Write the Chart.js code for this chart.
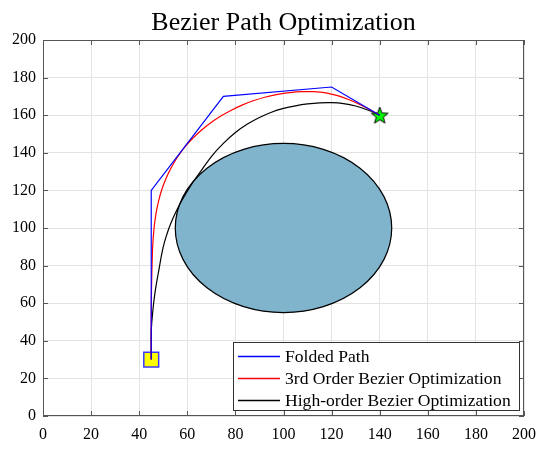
<!DOCTYPE html>
<html><head><meta charset="utf-8">
<script src="https://cdn.jsdelivr.net/npm/chart.js@4.4.1/dist/chart.umd.min.js"></script>
<style>html,body{margin:0;padding:0;background:#fff;}</style>
</head><body>
<canvas id="c" width="550" height="455"></canvas>
<script>
// ---- data ----
const chartTitle = 'Bezier Path Optimization';
const seriesLabels = ['Folded Path', '3rd Order Bezier Optimization', 'High-order Bezier Optimization'];
const seriesColors = ['#0000ff', '#ff0000', '#000000'];
const xTicks = [0, 20, 40, 60, 80, 100, 120, 140, 160, 180, 200];
const yTicks = [0, 20, 40, 60, 80, 100, 120, 140, 160, 180, 200];

const foldedX = [45, 45, 75, 120, 140];
const foldedY = [30, 120, 170, 175, 160];

const bezier3X = [45, 45, 45, 45.1, 45.3, 45.6, 46.1, 46.9, 48, 49.4, 51.2, 53.3, 55.8, 59, 62.5, 66.2, 70.2, 74.3, 78.5, 83, 87.7, 92.6, 97.6, 102.6, 107.6, 112.6, 117.6, 122.5, 127.3, 131.9, 136.2, 140];
const bezier3Y = [30, 42, 54, 66, 78, 90, 99, 107, 114, 120.5, 126.5, 132, 137.5, 143.2, 148, 152.4, 156.4, 159.8, 162.8, 165.5, 167.8, 169.7, 171.1, 172, 172.5, 172.5, 171.9, 170.4, 168.2, 165.6, 162.8, 160];

const bezierHX = [45, 45, 45.25, 45.6, 46, 46.5, 47.1, 47.8, 48.5, 49.2, 50, 51.1, 52.4, 54, 55.8, 57.9, 60.2, 62.7, 65.5, 70, 75, 80, 85, 90, 95, 100, 105, 110, 115, 120, 125, 130, 135, 140];
const bezierHY = [30, 45, 50, 55, 60, 65, 70, 75, 80, 85, 90, 95, 100, 105, 110, 115, 120, 125, 130, 138, 145, 150.8, 155.3, 158.8, 161.6, 163.6, 165, 166, 166.6, 166.7, 166.2, 164.9, 162.8, 160];

const startPoint = [45, 30];
const goalPoint = [140, 160];
const obstacleCenter = [100, 100];
const obstacleRadius = 45;

// ---- helpers ----
const toXY = (xs, ys) => xs.map((x, i) => ({x: x, y: ys[i]}));
const FONT = '"Liberation Serif", "Times New Roman", serif';

function makeStar(size, R) {
  const cv = document.createElement('canvas');
  cv.width = size; cv.height = size;
  const g = cv.getContext('2d');
  const cx = size / 2, cy = size / 2 + 0.8, r = R * 0.42;
  g.beginPath();
  for (let i = 0; i < 10; i++) {
    const a = -Math.PI / 2 + i * Math.PI / 5;
    const rad = i % 2 === 0 ? R : r;
    const px = cx + rad * Math.cos(a), py = cy + rad * Math.sin(a);
    if (i === 0) g.moveTo(px, py); else g.lineTo(px, py);
  }
  g.closePath();
  g.fillStyle = '#00ff00';
  g.fill();
  g.lineWidth = 1;
  g.strokeStyle = '#000';
  g.stroke();
  return cv;
}

const obstaclePlugin = {
  id: 'obstacle',
  beforeDatasetsDraw(chart) {
    const {ctx, scales: {x, y}} = chart;
    const cx = x.getPixelForValue(obstacleCenter[0]);
    const cy = y.getPixelForValue(obstacleCenter[1]);
    const rx = Math.abs(x.getPixelForValue(obstacleCenter[0] + obstacleRadius) - cx);
    const ry = Math.abs(y.getPixelForValue(obstacleCenter[1] + obstacleRadius) - cy);
    ctx.save();
    ctx.beginPath();
    ctx.ellipse(cx, cy, rx, ry, 0, 0, Math.PI * 2);
    ctx.fillStyle = 'rgb(128,179,204)';
    ctx.fill();
    ctx.lineWidth = 1.2;
    ctx.strokeStyle = '#000';
    ctx.stroke();
    ctx.restore();
  }
};

const framePlugin = {
  id: 'frame',
  afterDatasetsDraw(chart) {
    const {ctx, scales: {x, y}, chartArea: a} = chart;
    ctx.save();
    ctx.strokeStyle = '#555';
    ctx.lineWidth = 1;
    ctx.strokeRect(a.left + 0.5, a.top + 0.5, a.right - a.left - 1, a.bottom - a.top - 1);
    const L = 5;
    ctx.beginPath();
    xTicks.forEach(v => {
      const px = Math.round(x.getPixelForValue(v)) + 0.5;
      ctx.moveTo(px, a.bottom); ctx.lineTo(px, a.bottom - L);
      ctx.moveTo(px, a.top); ctx.lineTo(px, a.top + L);
    });
    yTicks.forEach(v => {
      const py = Math.round(y.getPixelForValue(v)) + 0.5;
      ctx.moveTo(a.left, py); ctx.lineTo(a.left + L, py);
      ctx.moveTo(a.right, py); ctx.lineTo(a.right - L, py);
    });
    ctx.stroke();

    // title
    ctx.fillStyle = '#000';
    ctx.font = '26px ' + FONT;
    ctx.textAlign = 'center';
    ctx.textBaseline = 'alphabetic';
    ctx.fillText(chartTitle, (a.left + a.right) / 2, a.top - 10);
    ctx.restore();
  },
  afterDraw(chart) {
    const {ctx, chartArea: a} = chart;
    const w = 286, h = 68;
    const bx = Math.round(a.right - 5 - w), by = Math.round(a.bottom - 6 - h);
    ctx.save();
    ctx.fillStyle = '#fff';
    ctx.fillRect(bx, by, w, h);
    ctx.strokeStyle = '#333';
    ctx.lineWidth = 1;
    ctx.strokeRect(bx + 0.5, by + 0.5, w, h);
    ctx.font = '17.6px ' + FONT;
    ctx.textBaseline = 'middle';
    ctx.textAlign = 'left';
    seriesLabels.forEach((lab, i) => {
      const ry = Math.round(by + 13.5 + i * 22.2) + 0.5;
      ctx.save();
      ctx.beginPath();
      ctx.strokeStyle = seriesColors[i];
      ctx.lineWidth = 1.3;
      ctx.moveTo(bx + 5, ry);
      ctx.lineTo(bx + 47, ry);
      ctx.stroke();
      ctx.restore();
      ctx.fillStyle = '#000';
      ctx.fillText(lab, bx + 52, ry + 0.5);
    });
    ctx.restore();
  }
};

new Chart(document.getElementById('c'), {
  type: 'scatter',
  data: {
    datasets: [
      {label: seriesLabels[0], data: toXY(foldedX, foldedY), showLine: true, borderColor: seriesColors[0], borderWidth: 1.2, pointRadius: 0, tension: 0, fill: false},
      {label: seriesLabels[1], data: toXY(bezier3X, bezier3Y), showLine: true, borderColor: seriesColors[1], borderWidth: 1.2, pointRadius: 0, tension: 0.3, fill: false},
      {label: seriesLabels[2], data: toXY(bezierHX, bezierHY), showLine: true, borderColor: seriesColors[2], borderWidth: 1.2, pointRadius: 0, tension: 0.3, fill: false},
      {label: 'Start', data: [{x: startPoint[0], y: startPoint[1]}], pointStyle: 'rect', pointRadius: 10.5, backgroundColor: '#ffff00', borderColor: '#3a3aff', borderWidth: 1.5},
      {label: 'Goal', data: [{x: goalPoint[0], y: goalPoint[1]}], pointStyle: makeStar(22, 8.8), pointRadius: 11}
    ]
  },
  options: {
    responsive: false,
    animation: false,
    devicePixelRatio: 1,
    layout: {padding: {top: 40, right: 26, left: 0, bottom: 0}},
    plugins: {legend: {display: false}, tooltip: {enabled: false}, title: {display: false}},
    scales: {
      x: {
        type: 'linear', min: 0, max: 200,
        afterBuildTicks: s => { s.ticks = xTicks.map(v => ({value: v})); },
        afterFit: s => { s.height = 39; },
        grid: {color: '#e3e3e3', lineWidth: 1, drawTicks: false},
        border: {display: false},
        ticks: {padding: 9, color: '#000', font: {family: FONT, size: 16}, maxRotation: 0}
      },
      y: {
        type: 'linear', min: 0, max: 200,
        afterBuildTicks: s => { s.ticks = yTicks.map(v => ({value: v})); },
        afterFit: s => { s.width = 43; },
        grid: {color: '#e3e3e3', lineWidth: 1, drawTicks: false},
        border: {display: false},
        ticks: {padding: 7, color: '#000', font: {family: FONT, size: 16}}
      }
    }
  },
  plugins: [obstaclePlugin, framePlugin]
});
</script>
</body></html>
